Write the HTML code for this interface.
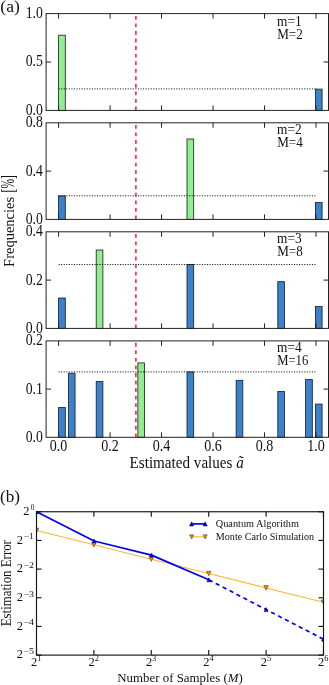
<!DOCTYPE html>
<html><head><meta charset="utf-8"><title>Figure</title>
<style>
html,body{margin:0;padding:0;background:#fff;}
body{width:329px;height:685px;overflow:hidden;}
svg{display:block;}
svg text{font-family:"Liberation Serif", "DejaVu Serif", serif;fill:#111;}
</style></head>
<body>
<svg width="329" height="685" viewBox="0 0 329 685">
<rect x="58.60" y="35.20" width="6.7" height="75.20" fill="#90ee90" stroke="#1a1a1a" stroke-width="0.8"/>
<rect x="315.40" y="89.10" width="6.7" height="21.30" fill="#3a82ce" stroke="#1a1a1a" stroke-width="0.8"/>
<line x1="58.60" y1="88.90" x2="316.00" y2="88.90" stroke="#000" stroke-width="0.9" stroke-dasharray="1.1 1.458"/>
<line x1="135.9" y1="110.40" x2="135.9" y2="13.60" stroke="#ff1a2a" stroke-width="1.5" stroke-dasharray="3.9 3.65"/>
<line x1="58.60" y1="13.60" x2="58.60" y2="18.60" stroke="#222" stroke-width="1.0"/>
<line x1="58.60" y1="110.40" x2="58.60" y2="105.40" stroke="#222" stroke-width="1.0"/>
<line x1="110.08" y1="13.60" x2="110.08" y2="18.60" stroke="#222" stroke-width="1.0"/>
<line x1="110.08" y1="110.40" x2="110.08" y2="105.40" stroke="#222" stroke-width="1.0"/>
<line x1="161.56" y1="13.60" x2="161.56" y2="18.60" stroke="#222" stroke-width="1.0"/>
<line x1="161.56" y1="110.40" x2="161.56" y2="105.40" stroke="#222" stroke-width="1.0"/>
<line x1="213.04" y1="13.60" x2="213.04" y2="18.60" stroke="#222" stroke-width="1.0"/>
<line x1="213.04" y1="110.40" x2="213.04" y2="105.40" stroke="#222" stroke-width="1.0"/>
<line x1="264.52" y1="13.60" x2="264.52" y2="18.60" stroke="#222" stroke-width="1.0"/>
<line x1="264.52" y1="110.40" x2="264.52" y2="105.40" stroke="#222" stroke-width="1.0"/>
<line x1="316.00" y1="13.60" x2="316.00" y2="18.60" stroke="#222" stroke-width="1.0"/>
<line x1="316.00" y1="110.40" x2="316.00" y2="105.40" stroke="#222" stroke-width="1.0"/>
<line x1="46.1" y1="62.00" x2="51.1" y2="62.00" stroke="#222" stroke-width="1.0"/>
<line x1="328.5" y1="62.00" x2="323.5" y2="62.00" stroke="#222" stroke-width="1.0"/>
<rect x="46.1" y="13.6" width="282.40" height="96.80" fill="none" stroke="#222" stroke-width="1.0"/>
<text x="42.9" y="18" text-anchor="end" font-size="16.3" textLength="17.2" lengthAdjust="spacingAndGlyphs">1.0</text>
<text x="42.9" y="66" text-anchor="end" font-size="16.3" textLength="17.2" lengthAdjust="spacingAndGlyphs">0.5</text>
<text x="42.9" y="115" text-anchor="end" font-size="16.3" textLength="17.2" lengthAdjust="spacingAndGlyphs">0.0</text>
<text transform="translate(277.0,26.00) scale(1,1.18)" font-size="12.2" textLength="24.6" lengthAdjust="spacingAndGlyphs">m=1</text>
<text transform="translate(277.2,39.00) scale(1,1.18)" font-size="12.2" textLength="25.6" lengthAdjust="spacingAndGlyphs">M=2</text>
<rect x="58.60" y="195.90" width="6.7" height="23.50" fill="#3a82ce" stroke="#1a1a1a" stroke-width="0.8"/>
<rect x="187.00" y="139.00" width="6.7" height="80.40" fill="#90ee90" stroke="#1a1a1a" stroke-width="0.8"/>
<rect x="315.40" y="202.50" width="6.7" height="16.90" fill="#3a82ce" stroke="#1a1a1a" stroke-width="0.8"/>
<line x1="58.60" y1="195.80" x2="316.00" y2="195.80" stroke="#000" stroke-width="0.9" stroke-dasharray="1.1 1.458"/>
<line x1="135.9" y1="219.40" x2="135.9" y2="122.80" stroke="#ff1a2a" stroke-width="1.5" stroke-dasharray="3.9 3.65"/>
<line x1="58.60" y1="122.80" x2="58.60" y2="127.80" stroke="#222" stroke-width="1.0"/>
<line x1="58.60" y1="219.40" x2="58.60" y2="214.40" stroke="#222" stroke-width="1.0"/>
<line x1="110.08" y1="122.80" x2="110.08" y2="127.80" stroke="#222" stroke-width="1.0"/>
<line x1="110.08" y1="219.40" x2="110.08" y2="214.40" stroke="#222" stroke-width="1.0"/>
<line x1="161.56" y1="122.80" x2="161.56" y2="127.80" stroke="#222" stroke-width="1.0"/>
<line x1="161.56" y1="219.40" x2="161.56" y2="214.40" stroke="#222" stroke-width="1.0"/>
<line x1="213.04" y1="122.80" x2="213.04" y2="127.80" stroke="#222" stroke-width="1.0"/>
<line x1="213.04" y1="219.40" x2="213.04" y2="214.40" stroke="#222" stroke-width="1.0"/>
<line x1="264.52" y1="122.80" x2="264.52" y2="127.80" stroke="#222" stroke-width="1.0"/>
<line x1="264.52" y1="219.40" x2="264.52" y2="214.40" stroke="#222" stroke-width="1.0"/>
<line x1="316.00" y1="122.80" x2="316.00" y2="127.80" stroke="#222" stroke-width="1.0"/>
<line x1="316.00" y1="219.40" x2="316.00" y2="214.40" stroke="#222" stroke-width="1.0"/>
<line x1="46.1" y1="171.10" x2="51.1" y2="171.10" stroke="#222" stroke-width="1.0"/>
<line x1="328.5" y1="171.10" x2="323.5" y2="171.10" stroke="#222" stroke-width="1.0"/>
<rect x="46.1" y="122.8" width="282.40" height="96.60" fill="none" stroke="#222" stroke-width="1.0"/>
<text x="42.9" y="127" text-anchor="end" font-size="16.3" textLength="17.2" lengthAdjust="spacingAndGlyphs">0.8</text>
<text x="42.9" y="176" text-anchor="end" font-size="16.3" textLength="17.2" lengthAdjust="spacingAndGlyphs">0.4</text>
<text x="42.9" y="224" text-anchor="end" font-size="16.3" textLength="17.2" lengthAdjust="spacingAndGlyphs">0.0</text>
<text transform="translate(277.0,134.00) scale(1,1.18)" font-size="12.2" textLength="24.6" lengthAdjust="spacingAndGlyphs">m=2</text>
<text transform="translate(277.2,147.00) scale(1,1.18)" font-size="12.2" textLength="25.6" lengthAdjust="spacingAndGlyphs">M=4</text>
<rect x="58.60" y="298.00" width="6.7" height="30.40" fill="#3a82ce" stroke="#1a1a1a" stroke-width="0.8"/>
<rect x="96.20" y="250.00" width="6.7" height="78.40" fill="#90ee90" stroke="#1a1a1a" stroke-width="0.8"/>
<rect x="187.00" y="264.40" width="6.7" height="64.00" fill="#3a82ce" stroke="#1a1a1a" stroke-width="0.8"/>
<rect x="277.80" y="281.70" width="6.7" height="46.70" fill="#3a82ce" stroke="#1a1a1a" stroke-width="0.8"/>
<rect x="315.40" y="306.50" width="6.7" height="21.90" fill="#3a82ce" stroke="#1a1a1a" stroke-width="0.8"/>
<line x1="58.60" y1="264.50" x2="316.00" y2="264.50" stroke="#000" stroke-width="0.9" stroke-dasharray="1.1 1.458"/>
<line x1="135.9" y1="328.40" x2="135.9" y2="231.80" stroke="#ff1a2a" stroke-width="1.5" stroke-dasharray="3.9 3.65"/>
<line x1="58.60" y1="231.80" x2="58.60" y2="236.80" stroke="#222" stroke-width="1.0"/>
<line x1="58.60" y1="328.40" x2="58.60" y2="323.40" stroke="#222" stroke-width="1.0"/>
<line x1="110.08" y1="231.80" x2="110.08" y2="236.80" stroke="#222" stroke-width="1.0"/>
<line x1="110.08" y1="328.40" x2="110.08" y2="323.40" stroke="#222" stroke-width="1.0"/>
<line x1="161.56" y1="231.80" x2="161.56" y2="236.80" stroke="#222" stroke-width="1.0"/>
<line x1="161.56" y1="328.40" x2="161.56" y2="323.40" stroke="#222" stroke-width="1.0"/>
<line x1="213.04" y1="231.80" x2="213.04" y2="236.80" stroke="#222" stroke-width="1.0"/>
<line x1="213.04" y1="328.40" x2="213.04" y2="323.40" stroke="#222" stroke-width="1.0"/>
<line x1="264.52" y1="231.80" x2="264.52" y2="236.80" stroke="#222" stroke-width="1.0"/>
<line x1="264.52" y1="328.40" x2="264.52" y2="323.40" stroke="#222" stroke-width="1.0"/>
<line x1="316.00" y1="231.80" x2="316.00" y2="236.80" stroke="#222" stroke-width="1.0"/>
<line x1="316.00" y1="328.40" x2="316.00" y2="323.40" stroke="#222" stroke-width="1.0"/>
<line x1="46.1" y1="280.10" x2="51.1" y2="280.10" stroke="#222" stroke-width="1.0"/>
<line x1="328.5" y1="280.10" x2="323.5" y2="280.10" stroke="#222" stroke-width="1.0"/>
<rect x="46.1" y="231.8" width="282.40" height="96.60" fill="none" stroke="#222" stroke-width="1.0"/>
<text x="42.9" y="236" text-anchor="end" font-size="16.3" textLength="17.2" lengthAdjust="spacingAndGlyphs">0.4</text>
<text x="42.9" y="285" text-anchor="end" font-size="16.3" textLength="17.2" lengthAdjust="spacingAndGlyphs">0.2</text>
<text x="42.9" y="333" text-anchor="end" font-size="16.3" textLength="17.2" lengthAdjust="spacingAndGlyphs">0.0</text>
<text transform="translate(277.0,243.00) scale(1,1.18)" font-size="12.2" textLength="24.6" lengthAdjust="spacingAndGlyphs">m=3</text>
<text transform="translate(277.2,256.00) scale(1,1.18)" font-size="12.2" textLength="25.6" lengthAdjust="spacingAndGlyphs">M=8</text>
<rect x="58.60" y="407.50" width="6.7" height="29.80" fill="#3a82ce" stroke="#1a1a1a" stroke-width="0.8"/>
<rect x="68.38" y="373.20" width="6.7" height="64.10" fill="#3a82ce" stroke="#1a1a1a" stroke-width="0.8"/>
<rect x="96.20" y="381.40" width="6.7" height="55.90" fill="#3a82ce" stroke="#1a1a1a" stroke-width="0.8"/>
<rect x="137.87" y="362.90" width="6.7" height="74.40" fill="#90ee90" stroke="#1a1a1a" stroke-width="0.8"/>
<rect x="187.00" y="371.90" width="6.7" height="65.40" fill="#3a82ce" stroke="#1a1a1a" stroke-width="0.8"/>
<rect x="236.13" y="380.30" width="6.7" height="57.00" fill="#3a82ce" stroke="#1a1a1a" stroke-width="0.8"/>
<rect x="277.80" y="391.50" width="6.7" height="45.80" fill="#3a82ce" stroke="#1a1a1a" stroke-width="0.8"/>
<rect x="305.62" y="379.50" width="6.7" height="57.80" fill="#3a82ce" stroke="#1a1a1a" stroke-width="0.8"/>
<rect x="315.40" y="404.10" width="6.7" height="33.20" fill="#3a82ce" stroke="#1a1a1a" stroke-width="0.8"/>
<line x1="58.60" y1="371.90" x2="316.00" y2="371.90" stroke="#000" stroke-width="0.9" stroke-dasharray="1.1 1.458"/>
<line x1="135.9" y1="437.30" x2="135.9" y2="340.90" stroke="#ff1a2a" stroke-width="1.5" stroke-dasharray="3.9 3.65"/>
<line x1="58.60" y1="340.90" x2="58.60" y2="345.90" stroke="#222" stroke-width="1.0"/>
<line x1="58.60" y1="437.30" x2="58.60" y2="432.30" stroke="#222" stroke-width="1.0"/>
<line x1="110.08" y1="340.90" x2="110.08" y2="345.90" stroke="#222" stroke-width="1.0"/>
<line x1="110.08" y1="437.30" x2="110.08" y2="432.30" stroke="#222" stroke-width="1.0"/>
<line x1="161.56" y1="340.90" x2="161.56" y2="345.90" stroke="#222" stroke-width="1.0"/>
<line x1="161.56" y1="437.30" x2="161.56" y2="432.30" stroke="#222" stroke-width="1.0"/>
<line x1="213.04" y1="340.90" x2="213.04" y2="345.90" stroke="#222" stroke-width="1.0"/>
<line x1="213.04" y1="437.30" x2="213.04" y2="432.30" stroke="#222" stroke-width="1.0"/>
<line x1="264.52" y1="340.90" x2="264.52" y2="345.90" stroke="#222" stroke-width="1.0"/>
<line x1="264.52" y1="437.30" x2="264.52" y2="432.30" stroke="#222" stroke-width="1.0"/>
<line x1="316.00" y1="340.90" x2="316.00" y2="345.90" stroke="#222" stroke-width="1.0"/>
<line x1="316.00" y1="437.30" x2="316.00" y2="432.30" stroke="#222" stroke-width="1.0"/>
<line x1="46.1" y1="389.10" x2="51.1" y2="389.10" stroke="#222" stroke-width="1.0"/>
<line x1="328.5" y1="389.10" x2="323.5" y2="389.10" stroke="#222" stroke-width="1.0"/>
<rect x="46.1" y="340.9" width="282.40" height="96.40" fill="none" stroke="#222" stroke-width="1.0"/>
<text x="42.9" y="345" text-anchor="end" font-size="16.3" textLength="17.2" lengthAdjust="spacingAndGlyphs">0.2</text>
<text x="42.9" y="394" text-anchor="end" font-size="16.3" textLength="17.2" lengthAdjust="spacingAndGlyphs">0.1</text>
<text x="42.9" y="442" text-anchor="end" font-size="16.3" textLength="17.2" lengthAdjust="spacingAndGlyphs">0.0</text>
<text transform="translate(277.0,352.00) scale(1,1.18)" font-size="12.2" textLength="24.6" lengthAdjust="spacingAndGlyphs">m=4</text>
<text transform="translate(277.2,365.00) scale(1,1.18)" font-size="12.2" textLength="31.0" lengthAdjust="spacingAndGlyphs">M=16</text>
<text x="58.60" y="451" text-anchor="middle" font-size="16.3" textLength="17.6" lengthAdjust="spacingAndGlyphs">0.0</text>
<text x="110.08" y="451" text-anchor="middle" font-size="16.3" textLength="17.6" lengthAdjust="spacingAndGlyphs">0.2</text>
<text x="161.56" y="451" text-anchor="middle" font-size="16.3" textLength="17.6" lengthAdjust="spacingAndGlyphs">0.4</text>
<text x="213.04" y="451" text-anchor="middle" font-size="16.3" textLength="17.6" lengthAdjust="spacingAndGlyphs">0.6</text>
<text x="264.52" y="451" text-anchor="middle" font-size="16.3" textLength="17.6" lengthAdjust="spacingAndGlyphs">0.8</text>
<text x="316.00" y="451" text-anchor="middle" font-size="16.3" textLength="17.6" lengthAdjust="spacingAndGlyphs">1.0</text>
<text x="129.6" y="468" font-size="15.8" textLength="114.2" lengthAdjust="spacingAndGlyphs">Estimated values <tspan font-style="italic">ã</tspan></text>
<text transform="translate(13.9,266.9) rotate(-90)" x="0" y="0" font-size="15.5" textLength="70" lengthAdjust="spacingAndGlyphs">Frequencies</text>
<text transform="translate(13.9,192.4) rotate(-90)" x="0" y="0" font-size="18" textLength="17.3" lengthAdjust="spacingAndGlyphs">[%]</text>
<text x="0.3" y="11.6" font-size="16" textLength="19.5" lengthAdjust="spacingAndGlyphs">(a)</text>
<text x="0.0" y="502" font-size="17" textLength="20" lengthAdjust="spacingAndGlyphs">(b)</text>
<defs><clipPath id="cb"><rect x="36.5" y="511.75" width="287.00" height="143.35"/></clipPath></defs>
<g clip-path="url(#cb)">
<polyline points="36.50,530.42 93.90,544.80 151.30,559.17 208.70,573.54 266.10,587.92 323.50,602.29" fill="none" stroke="#ffb52e" stroke-width="1.1"/>
<polyline points="36.50,511.75 94.10,541.00 151.50,555.10 208.80,579.80" fill="none" stroke="#0000ff" stroke-width="1.7" stroke-linejoin="round"/>
<polyline points="208.80,579.80 266.10,609.60 323.50,639.20" fill="none" stroke="#0000ff" stroke-width="1.7" stroke-dasharray="4.2 3.6"/>
<path d="M36.50,532.72 L38.80,528.12 L34.20,528.12 Z" fill="#f08c00" stroke="#333" stroke-width="0.5"/>
<path d="M93.90,547.10 L96.20,542.50 L91.60,542.50 Z" fill="#f08c00" stroke="#333" stroke-width="0.5"/>
<path d="M151.30,561.47 L153.60,556.87 L149.00,556.87 Z" fill="#f08c00" stroke="#333" stroke-width="0.5"/>
<path d="M208.70,575.84 L211.00,571.24 L206.40,571.24 Z" fill="#f08c00" stroke="#333" stroke-width="0.5"/>
<path d="M266.10,590.22 L268.40,585.62 L263.80,585.62 Z" fill="#f08c00" stroke="#333" stroke-width="0.5"/>
<path d="M323.50,604.59 L325.80,599.99 L321.20,599.99 Z" fill="#f08c00" stroke="#333" stroke-width="0.5"/>
<path d="M36.50,509.75 L38.50,513.75 L34.50,513.75 Z" fill="#0000ee" stroke="#111" stroke-width="0.5"/>
<path d="M94.10,539.00 L96.10,543.00 L92.10,543.00 Z" fill="#0000ee" stroke="#111" stroke-width="0.5"/>
<path d="M151.50,553.10 L153.50,557.10 L149.50,557.10 Z" fill="#0000ee" stroke="#111" stroke-width="0.5"/>
<path d="M208.80,577.80 L210.80,581.80 L206.80,581.80 Z" fill="#0000ee" stroke="#111" stroke-width="0.5"/>
<path d="M266.10,607.60 L268.10,611.60 L264.10,611.60 Z" fill="#0000ee" stroke="#111" stroke-width="0.5"/>
<path d="M323.50,637.20 L325.50,641.20 L321.50,641.20 Z" fill="#0000ee" stroke="#111" stroke-width="0.5"/>
</g>
<line x1="36.50" y1="655.1" x2="36.50" y2="650.1" stroke="#151515" stroke-width="1.15"/>
<line x1="36.50" y1="511.75" x2="36.50" y2="516.75" stroke="#151515" stroke-width="1.15"/>
<line x1="36.5" y1="511.75" x2="41.5" y2="511.75" stroke="#151515" stroke-width="1.15"/>
<line x1="323.5" y1="511.75" x2="318.5" y2="511.75" stroke="#151515" stroke-width="1.15"/>
<line x1="93.90" y1="655.1" x2="93.90" y2="650.1" stroke="#151515" stroke-width="1.15"/>
<line x1="93.90" y1="511.75" x2="93.90" y2="516.75" stroke="#151515" stroke-width="1.15"/>
<line x1="36.5" y1="540.42" x2="41.5" y2="540.42" stroke="#151515" stroke-width="1.15"/>
<line x1="323.5" y1="540.42" x2="318.5" y2="540.42" stroke="#151515" stroke-width="1.15"/>
<line x1="151.30" y1="655.1" x2="151.30" y2="650.1" stroke="#151515" stroke-width="1.15"/>
<line x1="151.30" y1="511.75" x2="151.30" y2="516.75" stroke="#151515" stroke-width="1.15"/>
<line x1="36.5" y1="569.09" x2="41.5" y2="569.09" stroke="#151515" stroke-width="1.15"/>
<line x1="323.5" y1="569.09" x2="318.5" y2="569.09" stroke="#151515" stroke-width="1.15"/>
<line x1="208.70" y1="655.1" x2="208.70" y2="650.1" stroke="#151515" stroke-width="1.15"/>
<line x1="208.70" y1="511.75" x2="208.70" y2="516.75" stroke="#151515" stroke-width="1.15"/>
<line x1="36.5" y1="597.76" x2="41.5" y2="597.76" stroke="#151515" stroke-width="1.15"/>
<line x1="323.5" y1="597.76" x2="318.5" y2="597.76" stroke="#151515" stroke-width="1.15"/>
<line x1="266.10" y1="655.1" x2="266.10" y2="650.1" stroke="#151515" stroke-width="1.15"/>
<line x1="266.10" y1="511.75" x2="266.10" y2="516.75" stroke="#151515" stroke-width="1.15"/>
<line x1="36.5" y1="626.43" x2="41.5" y2="626.43" stroke="#151515" stroke-width="1.15"/>
<line x1="323.5" y1="626.43" x2="318.5" y2="626.43" stroke="#151515" stroke-width="1.15"/>
<line x1="323.50" y1="655.1" x2="323.50" y2="650.1" stroke="#151515" stroke-width="1.15"/>
<line x1="323.50" y1="511.75" x2="323.50" y2="516.75" stroke="#151515" stroke-width="1.15"/>
<line x1="36.5" y1="655.10" x2="41.5" y2="655.10" stroke="#151515" stroke-width="1.15"/>
<line x1="323.5" y1="655.10" x2="318.5" y2="655.10" stroke="#151515" stroke-width="1.15"/>
<rect x="36.5" y="511.75" width="287.00" height="143.35" fill="none" stroke="#151515" stroke-width="1.15"/>
<text x="23.30" y="514.95" font-size="12.4">2</text>
<text x="34.30" y="510" font-size="7.3" text-anchor="end">0</text>
<text x="16.70" y="543.62" font-size="12.4">2</text>
<text x="23.40" y="539.32" font-size="7.3" textLength="10.6" lengthAdjust="spacingAndGlyphs">−1</text>
<text x="16.70" y="572.29" font-size="12.4">2</text>
<text x="23.40" y="567.99" font-size="7.3" textLength="10.6" lengthAdjust="spacingAndGlyphs">−2</text>
<text x="16.70" y="600.96" font-size="12.4">2</text>
<text x="23.40" y="596.66" font-size="7.3" textLength="10.6" lengthAdjust="spacingAndGlyphs">−3</text>
<text x="16.70" y="629.63" font-size="12.4">2</text>
<text x="23.40" y="625.33" font-size="7.3" textLength="10.6" lengthAdjust="spacingAndGlyphs">−4</text>
<text x="16.70" y="658.30" font-size="12.4">2</text>
<text x="23.40" y="654.00" font-size="7.3" textLength="10.6" lengthAdjust="spacingAndGlyphs">−5</text>
<text x="31.10" y="666.0" font-size="12.4">2</text>
<text x="37.30" y="661.0" font-size="8.3">1</text>
<text x="88.50" y="666.0" font-size="12.4">2</text>
<text x="94.70" y="661.0" font-size="8.3">2</text>
<text x="145.90" y="666.0" font-size="12.4">2</text>
<text x="152.10" y="661.0" font-size="8.3">3</text>
<text x="203.30" y="666.0" font-size="12.4">2</text>
<text x="209.50" y="661.0" font-size="8.3">4</text>
<text x="260.70" y="666.0" font-size="12.4">2</text>
<text x="266.90" y="661.0" font-size="8.3">5</text>
<text x="318.10" y="666.0" font-size="12.4">2</text>
<text x="324.30" y="661.0" font-size="8.3">6</text>
<text x="117.3" y="682" font-size="12.6" textLength="125.5" lengthAdjust="spacingAndGlyphs">Number of Samples (<tspan font-style="italic">M</tspan>)</text>
<text transform="translate(11.1,626.3) rotate(-90)" x="0" y="0" font-size="13.6" textLength="86.2" lengthAdjust="spacingAndGlyphs">Estimation Error</text>
<line x1="191.6" y1="523.9" x2="205.2" y2="523.9" stroke="#0000ff" stroke-width="1.7"/>
<path d="M191.60,521.80 L193.70,526.00 L189.50,526.00 Z" fill="#0000ee" stroke="#111" stroke-width="0.5"/>
<path d="M205.20,521.80 L207.30,526.00 L203.10,526.00 Z" fill="#0000ee" stroke="#111" stroke-width="0.5"/>
<line x1="191.6" y1="536.9" x2="205.2" y2="536.9" stroke="#ffb52e" stroke-width="1.1"/>
<path d="M191.60,539.00 L193.70,534.80 L189.50,534.80 Z" fill="#f08c00" stroke="#333" stroke-width="0.5"/>
<path d="M205.20,539.00 L207.30,534.80 L203.10,534.80 Z" fill="#f08c00" stroke="#333" stroke-width="0.5"/>
<text x="215.8" y="527.0" font-size="9.6" textLength="83.1" lengthAdjust="spacingAndGlyphs">Quantum Algorithm</text>
<text x="215.8" y="540.4" font-size="9.6" textLength="98.3" lengthAdjust="spacingAndGlyphs">Monte Carlo Simulation</text>
</svg>
</body></html>
